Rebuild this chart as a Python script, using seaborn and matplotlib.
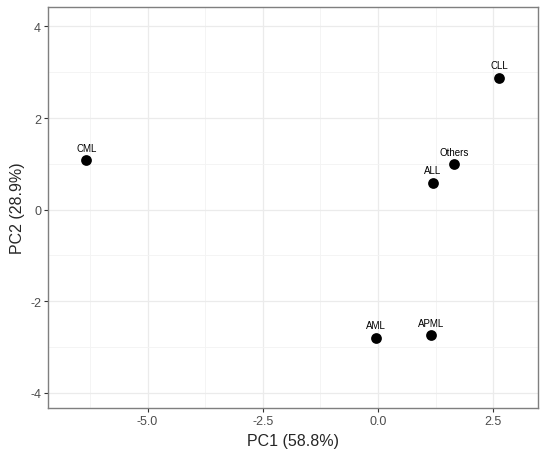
import numpy as np
import pandas as pd
import seaborn as sns
import matplotlib
matplotlib.use("Agg")
import matplotlib.pyplot as plt
from matplotlib.ticker import MultipleLocator

# PCA scores
groups = ["CML", "CLL", "Others", "ALL", "AML", "APML"]
pc1 = [-6.33, 2.62, 1.65, 1.19, -0.04, 1.15]
pc2 = [1.08, 2.88, 0.99, 0.58, -2.80, -2.74]

df = pd.DataFrame({"group": groups, "PC1": pc1, "PC2": pc2})

sns.set_style("white")
plt.rcParams["font.family"] = ["Liberation Sans", "DejaVu Sans"]
plt.rcParams["axes.unicode_minus"] = False

fig = plt.figure(figsize=(5.5, 4.52), dpi=100)
ax = fig.add_axes([0.0873, 0.095, 0.891, 0.887])

ax.set_xlim(-7.16, 3.47)
ax.set_ylim(-4.33, 4.42)

# theme_bw style grid
ax.xaxis.set_major_locator(MultipleLocator(2.5))
ax.xaxis.set_minor_locator(MultipleLocator(1.25))
ax.yaxis.set_major_locator(MultipleLocator(2))
ax.yaxis.set_minor_locator(MultipleLocator(1))
ax.grid(which="major", color="#ebebeb", linewidth=0.9)
ax.grid(which="minor", color="#f3f3f3", linewidth=0.6)
ax.set_axisbelow(True)

sns.scatterplot(data=df, x="PC1", y="PC2", color="black", s=60,
                edgecolor="black", linewidth=0, ax=ax, zorder=3)

for g, x, y in zip(groups, pc1, pc2):
    ax.annotate(g, (x, y), xytext=(0, 5.5), textcoords="offset points",
                ha="center", va="bottom", fontsize=7, color="black")

for s in ax.spines.values():
    s.set_color("#7f7f7f")
    s.set_linewidth(1.0)

ax.xaxis.set_major_formatter(matplotlib.ticker.FormatStrFormatter("%.1f"))
ax.tick_params(which="major", length=3, color="#333333", labelcolor="#4d4d4d",
               labelsize=9, bottom=True, left=True, pad=2)
ax.tick_params(which="minor", length=0)

ax.set_xlabel("PC1 (58.8%)", fontsize=11.5)
ax.set_ylabel("PC2 (28.9%)", fontsize=11.5)

fig.savefig("out.png", dpi=100)
